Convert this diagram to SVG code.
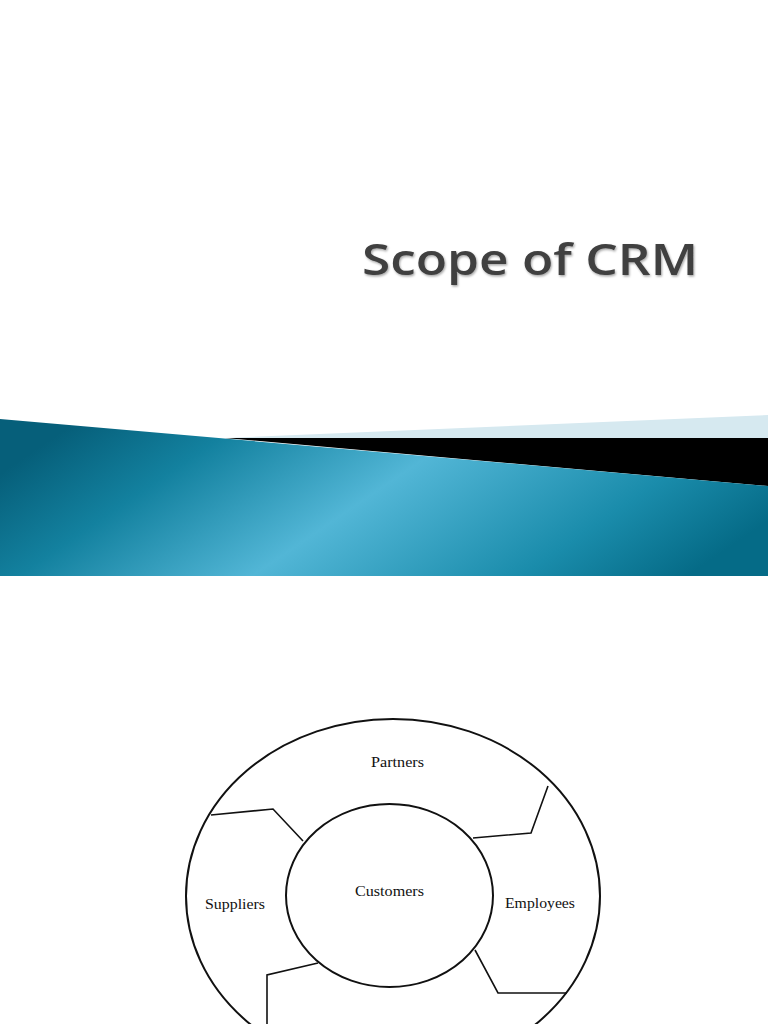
<svg xmlns="http://www.w3.org/2000/svg" width="768" height="1024" viewBox="0 0 768 1024">
<defs>
<linearGradient id="teal" x1="0" y1="0.35" x2="1" y2="0.65">
<stop offset="0" stop-color="#065f7a"/>
<stop offset="0.2" stop-color="#13819f"/>
<stop offset="0.48" stop-color="#52b6d6"/>
<stop offset="0.8" stop-color="#1a8cab"/>
<stop offset="1" stop-color="#056b87"/>
</linearGradient>
<filter id="sh" x="-5%" y="-20%" width="110%" height="140%">
<feDropShadow dx="1" dy="1.5" stdDeviation="1" flood-color="#000" flood-opacity="0.35"/>
</filter>
<style>
.lbl{font-family:"Liberation Serif","Times New Roman",serif;font-size:15px;fill:#111;}
.ln{fill:none;stroke:#111;stroke-width:1.6;}
.ring{fill:#fff;stroke:#111;stroke-width:2;}
</style>
</defs>
<rect width="768" height="1024" fill="#fff"/>
<g id="banner">
<polygon points="225,438 768,415 768,438" fill="#d6e9f0"/>
<polygon points="225,438 768,438 768,486" fill="#000"/>
<polygon points="0,419 768,486 768,576 0,576" fill="url(#teal)"/>
</g>
<text id="title" x="362" y="275" font-family="'Open Sans','Noto Sans',sans-serif" font-size="44" font-weight="600" fill="#404040" textLength="336" lengthAdjust="spacingAndGlyphs" filter="url(#sh)">Scope of CRM</text>
<g id="outer-ring">
<ellipse class="ring" cx="393" cy="896" rx="207" ry="177"/>
</g>
<g id="connectors">
<polyline class="ln" points="211,815 273,809 303,841"/>
<polyline class="ln" points="548,786 531,833 473,838"/>
<polyline class="ln" points="318,963 267,975 267,1026"/>
<polyline class="ln" points="475,950 498,993 567,993"/>
</g>
<g id="customers">
<ellipse class="ring" cx="389.5" cy="895.5" rx="103.5" ry="91.5"/>
<text class="lbl" x="389.5" y="896" text-anchor="middle" textLength="69" lengthAdjust="spacingAndGlyphs">Customers</text>
</g>
<g id="partners">
<text class="lbl" x="397.5" y="767" text-anchor="middle" textLength="53" lengthAdjust="spacingAndGlyphs">Partners</text>
</g>
<g id="suppliers">
<text class="lbl" x="235" y="909" text-anchor="middle" textLength="60" lengthAdjust="spacingAndGlyphs">Suppliers</text>
</g>
<g id="employees">
<text class="lbl" x="540" y="908" text-anchor="middle" textLength="70" lengthAdjust="spacingAndGlyphs">Employees</text>
</g>
</svg>
